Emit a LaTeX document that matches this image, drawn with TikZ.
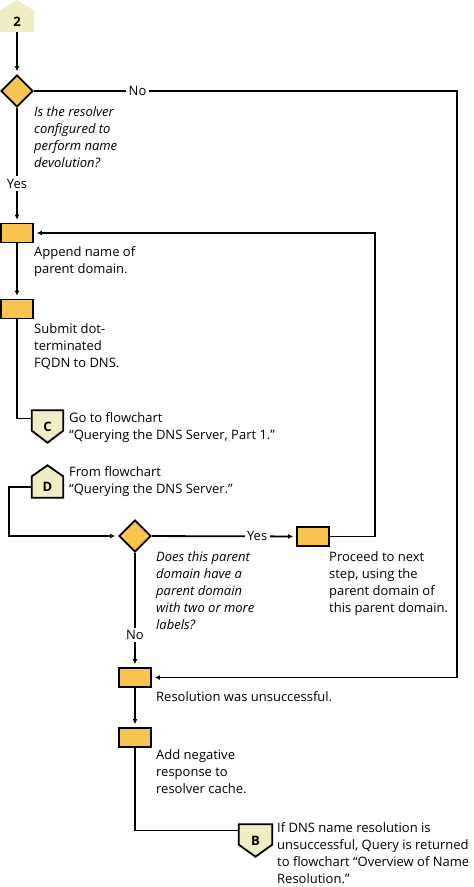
\documentclass[tikz,border=0pt]{standalone}
\usepackage{fontspec}
\setmainfont{Open Sans}
\usetikzlibrary{shapes.geometric,arrows.meta,backgrounds}
\definecolor{boxfill}{HTML}{F8C34F}
\definecolor{badgefill}{HTML}{F0ECC4}
\tikzset{
  procbox/.style={draw, fill=boxfill, line width=1.8pt, minimum width=32pt, minimum height=19pt, inner sep=0pt},
  decision/.style={diamond, draw, fill=boxfill, line width=1.8pt, minimum width=32pt, minimum height=32pt, inner sep=0pt},
  upbadge/.style={minimum width=#1, minimum height=21pt, inner sep=0pt, font=\fontsize{13}{15}\selectfont\bfseries},
  downbadge/.style={minimum width=#1, minimum height=32pt, inner sep=0pt, font=\fontsize{13}{15}\selectfont\bfseries},
  note/.style={anchor=north west, inner sep=0pt, align=left, font=\fontsize{13}{17}\selectfont},
  question/.style={note, font=\fontsize{13}{17}\selectfont\itshape},
  answer/.style={fill=white, inner sep=2.5pt, font=\fontsize{13}{15}\selectfont},
  line/.style={line width=1.8pt},
  flow/.style={line, -{Latex[length=5pt,width=5pt]}, shorten >=3pt}
}
\def\uppath#1{(#1.south west) -- (#1.south east) -- (#1.north east) -- ([yshift=11pt]#1.north) -- (#1.north west) -- cycle}
\def\downpath#1{(#1.north west) -- (#1.north east) -- ([yshift=12pt]#1.south east) -- (#1.south) -- ([yshift=12pt]#1.south west) -- cycle}
\begin{document}
\begin{tikzpicture}[x=1pt,y=-1pt]
\useasboundingbox (0,0) rectangle (474,887);

% off-page badges
\node[upbadge=34pt] (two) at (17,21.5) {2};
\node[downbadge=31pt] (C) at (47.5,426.5) {C};
\node[upbadge=31pt] (D) at (47.5,487) {D};
\node[downbadge=33pt] (B) at (255.5,840.5) {B};
\begin{scope}[on background layer]
\fill[badgefill] \uppath{two};
\filldraw[fill=badgefill, line width=1.8pt] \downpath{C};
\filldraw[fill=badgefill, line width=1.8pt] \uppath{D};
\filldraw[fill=badgefill, line width=1.8pt] \downpath{B};
\end{scope}

% steps and decisions
\node[decision] (q1) at (17,91) {};
\node[procbox] (r1) at (17,233) {};
\node[procbox] (r2) at (17,309) {};
\node[decision] (q2) at (135,536) {};
\node[procbox] (next) at (313,536.5) {};
\node[procbox] (r3) at (135,677.5) {};
\node[procbox] (r4) at (135,737.5) {};

\coordinate (farright) at (457,0);
\coordinate (loopright) at (375,0);
\coordinate (loopleft) at (9,0);

% texts
\node[question] (q1text) at (34,106) {Is the resolver\\configured to\\perform name\\devolution?};
\node[note] (r1text) at (34,246) {Append name of\\parent domain.};
\node[note] (r2text) at (34,323) {Submit dot-\\terminated\\FQDN to DNS.};
\node[note] (Ctext) at (69,412) {Go to flowchart\\“Querying the DNS Server, Part 1.”};
\node[note] (Dtext) at (69,466) {From flowchart\\“Querying the DNS Server.”};
\node[question] (q2text) at (156,551) {Does this parent\\domain have a\\parent domain\\with two or more\\labels?};
\node[note] (nexttext) at (329,551) {Proceed to next\\step, using the\\parent domain of\\this parent domain.};
\node[note] (r3text) at (156,691) {Resolution was unsuccessful.};
\node[note] (r4text) at (156,749) {Add negative\\response to\\resolver cache.};
\node[note] (Btext) at (277,822) {If DNS name resolution is\\unsuccessful, Query is returned\\to flowchart “Overview of Name\\Resolution.”};

% connectors
\draw[flow] (two) -- (q1);
\draw[flow] (q1) -- node[answer, pos=0.245] {No} (q1 -| farright) |- (r3);
\draw[flow] (q1) -- node[answer, pos=0.66] {Yes} (r1);
\draw[flow] (r1) -- (r2);
\draw[line] (r2) |- ([yshift=8pt]C.west);
\draw[flow] (D.west) -| (loopleft |- q2) -- (q2);
\draw[flow] (q2) -- node[answer, pos=0.73] {Yes} (next);
\draw[flow] (next) -| (loopright |- r1) -- (r1);
\draw[flow] (q2) -- node[answer, pos=0.72] {No} (r3);
\draw[flow] (r3) -- (r4);
\draw[line] (r4) |- ([yshift=10pt]B.west);
\end{tikzpicture}
\end{document}
